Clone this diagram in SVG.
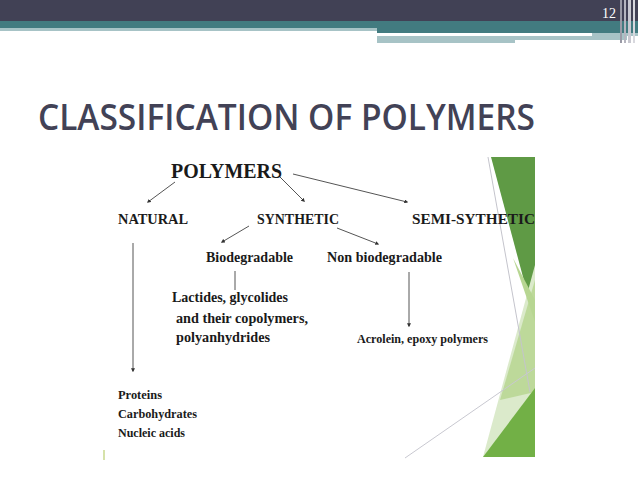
<svg xmlns="http://www.w3.org/2000/svg" width="638" height="478" viewBox="0 0 638 478">
<defs>
<style>
.t{font-family:"Liberation Serif","Times New Roman",serif;font-weight:bold;fill:#1a1a1a}
.c{stroke:#555;stroke-width:1;fill:none}
</style>
<marker id="dot" viewBox="0 0 6 6" refX="4" refY="3" markerWidth="4" markerHeight="4" orient="auto" markerUnits="userSpaceOnUse">
<path d="M0,0 L6,3 L0,6 z" fill="#333"/>
</marker>
</defs>
<rect width="638" height="478" fill="#ffffff"/>
<g id="header">
<rect x="0" y="0" width="638" height="21" fill="#414155"/>
<rect x="0" y="21" width="638" height="7" fill="#427b80"/>
<rect x="0" y="28" width="377" height="3" fill="#a7c3c6"/>
<rect x="377" y="28" width="261" height="5" fill="#427b80"/>
<rect x="377" y="33" width="215" height="2" fill="#ffffff"/>
<rect x="592" y="33" width="46" height="3" fill="#a7c3c6"/>
<rect x="377" y="36" width="250" height="4" fill="#a7c3c6"/>
<rect x="377" y="40" width="138" height="3" fill="#a7c3c6"/>
<rect x="620" y="0" width="2" height="43" fill="#9a9aa6"/>
<rect x="624" y="0" width="2" height="43" fill="#b5b5bf"/>
<rect x="628" y="0" width="3" height="43" fill="#c8c8d0"/>
<rect x="633" y="0" width="2" height="43" fill="#d8d8de"/>
<text x="602" y="18" font-family="Liberation Serif, serif" font-size="14" fill="#ffffff">12</text>
</g>
<text id="title" x="38" y="130" font-family="Open Sans, sans-serif" font-weight="600" font-size="36" fill="#424256" textLength="497" lengthAdjust="spacingAndGlyphs">CLASSIFICATION OF POLYMERS</text>
<g id="decor">
<polygon points="491,157 535,157 535,322" fill="#5f9a45"/>
<polygon points="535,265 483,457 535,457" fill="#dbeacb"/>
<polygon points="513,258 535,322 535,300" fill="#b7d692"/>
<polygon points="535,280 500,400 535,392" fill="#b7d692" opacity="0.85"/>
<polygon points="535,388 483,457 535,457" fill="#72b046"/>
<line x1="488" y1="157" x2="530" y2="392" stroke="#c4c4cc" stroke-width="1"/>
<line x1="405" y1="458" x2="535" y2="368" stroke="#c8c8d0" stroke-width="1"/>
<line x1="104" y1="450" x2="104" y2="460" stroke="#c9d98e" stroke-width="1.5"/>
</g>
<g id="connectors">
<line class="c" x1="175" y1="182" x2="148" y2="202" marker-end="url(#dot)"/>
<line class="c" x1="280" y1="177" x2="304" y2="201" marker-end="url(#dot)"/>
<line class="c" x1="293" y1="174" x2="407" y2="202" marker-end="url(#dot)"/>
<line class="c" x1="249" y1="226" x2="222" y2="242" marker-end="url(#dot)"/>
<line class="c" x1="337" y1="228" x2="378" y2="244" marker-end="url(#dot)"/>
<line class="c" x1="133" y1="243" x2="133" y2="371" marker-end="url(#dot)"/>
<line class="c" x1="235" y1="271" x2="235" y2="290"/>
<line class="c" x1="409" y1="272" x2="409" y2="326" marker-end="url(#dot)"/>
</g>
<g id="polymers"><text class="t" x="171" y="178" font-size="21" textLength="111" lengthAdjust="spacingAndGlyphs">POLYMERS</text></g>
<g id="natural"><text class="t" x="118" y="224" font-size="14.5" textLength="70" lengthAdjust="spacingAndGlyphs">NATURAL</text></g>
<g id="synthetic"><text class="t" x="257" y="224" font-size="14.5" textLength="82" lengthAdjust="spacingAndGlyphs">SYNTHETIC</text></g>
<g id="semi"><text class="t" x="412" y="224" font-size="14.5" textLength="123" lengthAdjust="spacingAndGlyphs">SEMI-SYTHETIC</text></g>
<g id="bio"><text class="t" x="206" y="262" font-size="14" textLength="87" lengthAdjust="spacingAndGlyphs">Biodegradable</text></g>
<g id="nonbio"><text class="t" x="327" y="262" font-size="14" textLength="115" lengthAdjust="spacingAndGlyphs">Non biodegradable</text></g>
<g id="lactides">
<text class="t" x="172" y="302" font-size="14" textLength="116" lengthAdjust="spacingAndGlyphs">Lactides, glycolides</text>
<text class="t" x="176" y="323" font-size="14" textLength="132" lengthAdjust="spacingAndGlyphs">and their copolymers,</text>
<text class="t" x="176" y="342" font-size="14" textLength="94" lengthAdjust="spacingAndGlyphs">polyanhydrides</text>
</g>
<g id="acrolein"><text class="t" x="357" y="343" font-size="11.5" textLength="131" lengthAdjust="spacingAndGlyphs">Acrolein, epoxy polymers</text></g>
<g id="natural-list">
<text class="t" x="118" y="399" font-size="11.5" textLength="44" lengthAdjust="spacingAndGlyphs">Proteins</text>
<text class="t" x="118" y="418" font-size="11.5" textLength="79" lengthAdjust="spacingAndGlyphs">Carbohydrates</text>
<text class="t" x="118" y="437" font-size="11.5" textLength="67" lengthAdjust="spacingAndGlyphs">Nucleic acids</text>
</g>
</svg>
